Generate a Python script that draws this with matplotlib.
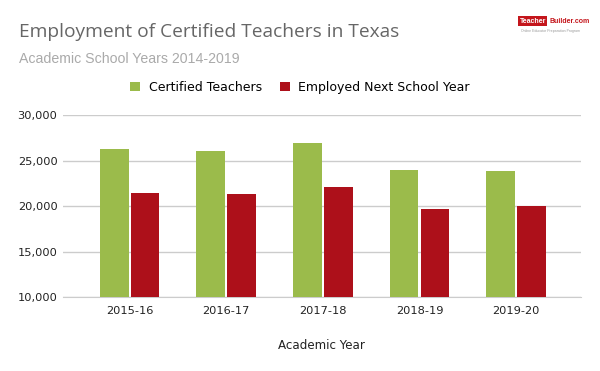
import matplotlib as mpl
mpl.use('Agg')
import matplotlib.pyplot as plt
import numpy as np

years = ['2015-16', '2016-17', '2017-18', '2018-19', '2019-20']
certified = [26300, 26080, 26880, 23990, 23880]
employed = [21450, 21350, 22120, 19740, 20030]

green = '#9bbb4b'
red = '#ad101a'

fig = plt.figure(figsize=(6, 3.71), dpi=100)
ax = fig.add_axes([0.105, 0.1987, 0.863, 0.4913])

x = np.arange(len(years))
w = 0.297
ax.bar(x - 0.16, certified, w, color=green, label='Certified Teachers', zorder=3)
ax.bar(x + 0.16, employed, w, color=red, label='Employed Next School Year', zorder=3)

ax.set_xlim(-0.69, 4.67)
ax.set_ylim(10000, 30000)
ax.set_yticks(range(10000, 30001, 5000))
ax.yaxis.set_major_formatter(mpl.ticker.FuncFormatter(lambda v, p: '{:,.0f}'.format(v)))
ax.set_xticks(x)
ax.set_xticklabels(years)
ax.grid(axis='y', color='#cccccc', linewidth=1, zorder=0)
for s in ['top', 'right', 'left']:
  ax.spines[s].set_visible(False)
ax.spines['bottom'].set_color('#cccccc')
ax.tick_params(length=0, labelsize=8.2, colors='#222222', pad=6)
ax.tick_params(axis='y', pad=4)
ax.set_xlabel('Academic Year', fontsize=8.6, color='#222222', labelpad=17)

fig.text(0.032, 0.915, 'Employment of Certified Teachers in Texas', fontsize=13.8,
         family='Open Sans', color='#666666', va='center')
fig.text(0.032, 0.842, 'Academic School Years 2014-2019', fontsize=10.2,
         family='Liberation Sans', color='#aaaaaa', va='center')

ax.legend(loc='center', bbox_to_anchor=(0.5, 0.765), bbox_transform=fig.transFigure,
          ncol=2, frameon=False, fontsize=9, handlelength=0.8, handleheight=0.8,
          columnspacing=1.4, handletextpad=0.7)

# logo
fig.text(0.866, 0.943, 'Teacher', fontsize=5, weight='bold', family='Liberation Sans',
         color='white', va='center',
         bbox=dict(boxstyle='square,pad=0.2', fc='#c4161c', ec='none'))
fig.text(0.916, 0.943, 'Builder.com', fontsize=5, weight='bold', family='Liberation Sans',
         color='#c4161c', va='center')
fig.text(0.868, 0.917, 'Online Educator Preparation Program', fontsize=2.5,
         family='Liberation Sans', color='#999999', va='center')

fig.savefig('out.png')
